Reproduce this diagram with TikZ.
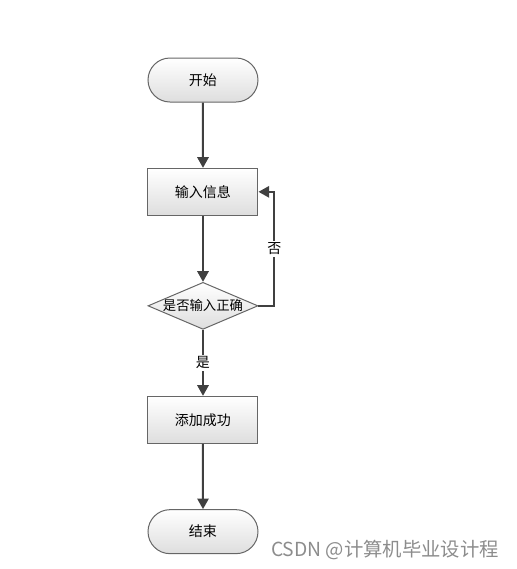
\documentclass[tikz,border=0pt]{standalone}
\usepackage{fontspec}
\setmainfont{Noto Sans CJK SC}
\usetikzlibrary{positioning}
\usetikzlibrary{graphs}
\usetikzlibrary{shapes.geometric}
\usetikzlibrary{shapes.misc}
\usetikzlibrary{arrows.meta}
\tikzset{
    stepshape/.style={draw=black!60,line width=0.75pt,top color=white,bottom color=black!13,
        minimum width=82.5pt,font=\fontsize{10.5pt}{12pt}\selectfont,inner sep=0pt},
    terminal/.style={stepshape,rounded rectangle,minimum height=33pt},
    process/.style={stepshape,rectangle,minimum height=35.25pt},
    decision/.style={stepshape,diamond,minimum height=35.25pt,aspect=2.34},
    flow/.style={draw=black!75,line width=1.5pt,>={Triangle[length=8pt,width=8.5pt]}},
    yesno/.style={fill=white,inner sep=1.5pt,font=\fontsize{10.5pt}{12pt}\selectfont}
}

\begin{document}
\begin{tikzpicture}
            \useasboundingbox (-152.25pt,-366.75pt) rectangle (235.5pt,60pt);

            \node (start) [terminal]                       {开始};
            \node (input) [process,below=49pt of start]    {输入信息};
            \node (check) [decision,below=49.5pt of input,
                           label={center:是否输入正确}]     {};
            \node (added) [process,below=49.5pt of check]  {添加成功};
            \node (stop)  [terminal,below=49pt of added]   {结束};

            \graph[edges={flow}]{
                (start) -> (input) -> (check) -> [edge node={node[yesno]{是}}] (added) -> (stop);
            };

            \draw[flow,->] (check.east) -- ++(12pt,0) |- node[yesno,pos=0.25] {否} (input.east);

            \node (mark) [text=black!45,font=\fontsize{14.5pt}{16pt}\selectfont]
                at (136.5pt,-352.5pt) {CSDN @计算机毕业设计程};
        \end{tikzpicture}
\end{document}
